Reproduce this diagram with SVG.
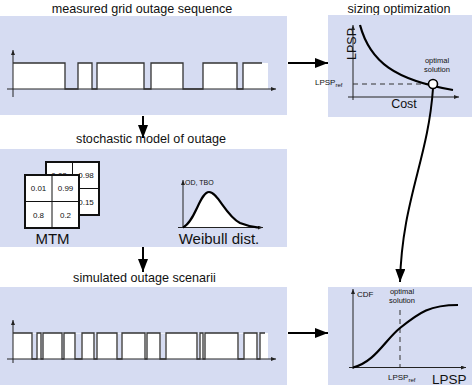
<svg xmlns="http://www.w3.org/2000/svg" width="474" height="387" viewBox="0 0 474 387">
<style>
text{font-family:"Liberation Sans",Arial,sans-serif;fill:#111}
.title{font-size:12.6px;text-anchor:middle}
.panel{fill:#d6dcf2}
.axis{stroke:#222;stroke-width:1;fill:none}
.sig{stroke:#333;stroke-width:1.3;fill:none}
.wfill{fill:#fff;stroke:none}
.conn{stroke:#000;stroke-width:2;fill:none}
.curve{stroke:#000;stroke-width:2.2;fill:none}
.small{font-size:7.5px;text-anchor:middle;fill:#111}
.cell{font-size:8px;text-anchor:middle}
.big{font-size:15px}
</style>
<defs>
<marker id="ah" markerUnits="userSpaceOnUse" markerWidth="14" markerHeight="11" refX="13" refY="5" orient="auto">
<path d="M0,0 L13,5 L0,10 z" fill="#000"/>
</marker>
<marker id="sa" markerUnits="userSpaceOnUse" markerWidth="6" markerHeight="5" refX="5" refY="2" orient="auto">
<path d="M0,0 L5,2 L0,4 z" fill="#222"/>
</marker>
</defs>

<g id="measured">
<text class="title" x="142" y="13">measured grid outage sequence</text>
<rect class="panel" x="0" y="16" width="287" height="99"/>
<g class="wfill">
<rect x="13" y="63" width="52" height="26"/>
<rect x="78" y="63" width="14" height="26"/>
<rect x="97" y="63" width="47" height="26"/>
<rect x="151" y="63" width="32" height="26"/>
<rect x="203" y="63" width="34" height="26"/>
<rect x="243" y="63" width="25" height="26"/>
</g>
<line class="axis" x1="13" y1="97" x2="13" y2="50" marker-end="url(#sa)"/>
<line class="axis" x1="7" y1="89" x2="276" y2="89" marker-end="url(#sa)"/>
<polyline class="sig" points="13,63 65,63 65,89 78,89 78,63 92,63 92,89 97,89 97,63 144,63 144,89 151,89 151,63 183,63 183,89 203,89 203,63 237,63 237,89 243,89 243,63 262,63"/>
</g>

<g id="stochastic">
<text class="title" x="151" y="143">stochastic model of outage</text>
<rect class="panel" x="0" y="149" width="287" height="98"/>
<g id="mtm">
<rect x="46" y="162" width="53" height="53" fill="#fff" stroke="#111" stroke-width="2"/>
<line x1="72.5" y1="162" x2="72.5" y2="215" stroke="#111" stroke-width="1"/>
<line x1="46" y1="188.5" x2="99" y2="188.5" stroke="#111" stroke-width="1"/>
<text class="cell" x="59" y="178">0.02</text>
<text class="cell" x="86" y="178">0.98</text>
<text class="cell" x="86" y="205">0.15</text>
<rect x="25" y="175" width="54" height="53" fill="#fff" stroke="#111" stroke-width="2"/>
<line x1="52" y1="175" x2="52" y2="228" stroke="#111" stroke-width="1"/>
<line x1="25" y1="201.5" x2="79" y2="201.5" stroke="#111" stroke-width="1"/>
<text class="cell" x="38.5" y="191">0.01</text>
<text class="cell" x="65.5" y="191">0.99</text>
<text class="cell" x="38.5" y="218">0.8</text>
<text class="cell" x="65.5" y="218">0.2</text>
<text class="big" x="52.5" y="244" text-anchor="middle">MTM</text>
</g>
<g id="weibull">
<path d="M183,227.5 C195,222 200,192 209,192 C218,192 225,215 240,223 C250,227 255,227 259,227.5 Z" fill="#fff"/>
<line class="axis" x1="183" y1="228" x2="183" y2="180" marker-end="url(#sa)"/>
<line class="axis" x1="178" y1="227.5" x2="263" y2="227.5" marker-end="url(#sa)"/>
<path class="curve" d="M183,227.5 C195,222 200,192 209,192 C218,192 225,215 240,223 C250,227 255,227 259,227.5"/>
<text x="185" y="185" font-size="7px">OD, TBO</text>
<text class="big" x="219" y="244" text-anchor="middle">Weibull dist.</text>
</g>
</g>

<g id="simulated">
<text class="title" x="144.5" y="282">simulated outage scenarii</text>
<rect class="panel" x="0" y="287" width="287" height="98"/>
<g class="wfill">
<rect x="13" y="333" width="255" height="26"/>
</g>
<g fill="#d6dcf2">
<rect x="32.6" y="333.6" width="3.8" height="24.8"/>
<rect x="41.6" y="333.6" width="0.8" height="24.8"/>
<rect x="62.6" y="333.6" width="0.8" height="24.8"/>
<rect x="75.6" y="333.6" width="5.8" height="24.8"/>
<rect x="94.6" y="333.6" width="1.8" height="24.8"/>
<rect x="117.6" y="333.6" width="3.8" height="24.8"/>
<rect x="160.6" y="333.6" width="4.8" height="24.8"/>
<rect x="197.6" y="333.6" width="1.8" height="24.8"/>
<rect x="238.6" y="333.6" width="4.8" height="24.8"/>
<rect x="257.6" y="333.6" width="1.8" height="24.8"/>
</g>
<line class="axis" x1="13" y1="363" x2="13" y2="320" marker-end="url(#sa)"/>
<line class="axis" x1="7" y1="359" x2="276" y2="359" marker-end="url(#sa)"/>
<polyline class="sig" points="13,333 32,333 32,359 37,359 37,333 41,333 41,359 43,359 43,333 62,333 62,359 64,359 64,333 75,333 75,359 82,359 82,333 94,333 94,359 97,359 97,333 117,333 117,359 122,359 122,333 145,333 145,359 147,359 147,333 160,333 160,359 166,359 166,333 197,333 197,359 200,359 200,333 203,333 203,359 205,359 205,333 238,333 238,359 244,359 244,333 257,333 257,359 260,359 260,333 265,333"/>
</g>

<g id="sizing">
<text class="title" x="399" y="13">sizing optimization</text>
<rect class="panel" x="328" y="15" width="144" height="102"/>
<line class="axis" x1="353" y1="100" x2="353" y2="25" marker-end="url(#sa)"/>
<line class="axis" x1="348" y1="97" x2="459" y2="97" marker-end="url(#sa)"/>
<line x1="353" y1="84" x2="429" y2="84" stroke="#333" stroke-width="1" stroke-dasharray="5,4"/>
<path class="curve" d="M360,25 C370,62 395,80 453,90"/>
<circle cx="433" cy="84" r="4.5" fill="#fff" stroke="#000" stroke-width="1.6"/>
<text x="356" y="44" font-size="12.5px" text-anchor="middle" transform="rotate(-90 356 44)">LPSP</text>
<text x="404" y="108" font-size="12.5px" text-anchor="middle">Cost</text>
<text x="315" y="85" font-size="8px">LPSP<tspan font-size="6px" dy="2">ref</tspan></text>
<text class="small" x="437" y="63">optimal</text>
<text class="small" x="437" y="72">solution</text>
</g>

<g id="cdf">
<rect class="panel" x="328" y="287" width="144" height="98"/>
<line class="axis" x1="353" y1="369" x2="353" y2="289" marker-end="url(#sa)"/>
<line class="axis" x1="349" y1="367.5" x2="466" y2="367.5" marker-end="url(#sa)"/>
<line x1="400" y1="310" x2="400" y2="367" stroke="#333" stroke-width="1" stroke-dasharray="5,4"/>
<path class="curve" d="M353,367.5 C375,362 385,340 400,328 C420,312 430,305 458,305"/>
<text x="357" y="297" font-size="8px">CDF</text>
<text class="small" x="402" y="294">optimal</text>
<text class="small" x="402" y="303">solution</text>
<text x="388" y="380" font-size="8px">LPSP<tspan font-size="6px" dy="2">ref</tspan></text>
<text x="432" y="384" font-size="13.5px">LPSP</text>
</g>

<g id="connectors">
<line class="conn" x1="143" y1="116" x2="143" y2="138" marker-end="url(#ah)"/>
<line class="conn" x1="143" y1="247" x2="143" y2="272" marker-end="url(#ah)"/>
<line class="conn" x1="288" y1="63" x2="328" y2="63" marker-end="url(#ah)"/>
<line class="conn" x1="288" y1="333" x2="328" y2="333" marker-end="url(#ah)"/>
<path class="conn" d="M433,88.5 C428,160 402,200 400,282" marker-end="url(#ah)"/>
</g>
</svg>
